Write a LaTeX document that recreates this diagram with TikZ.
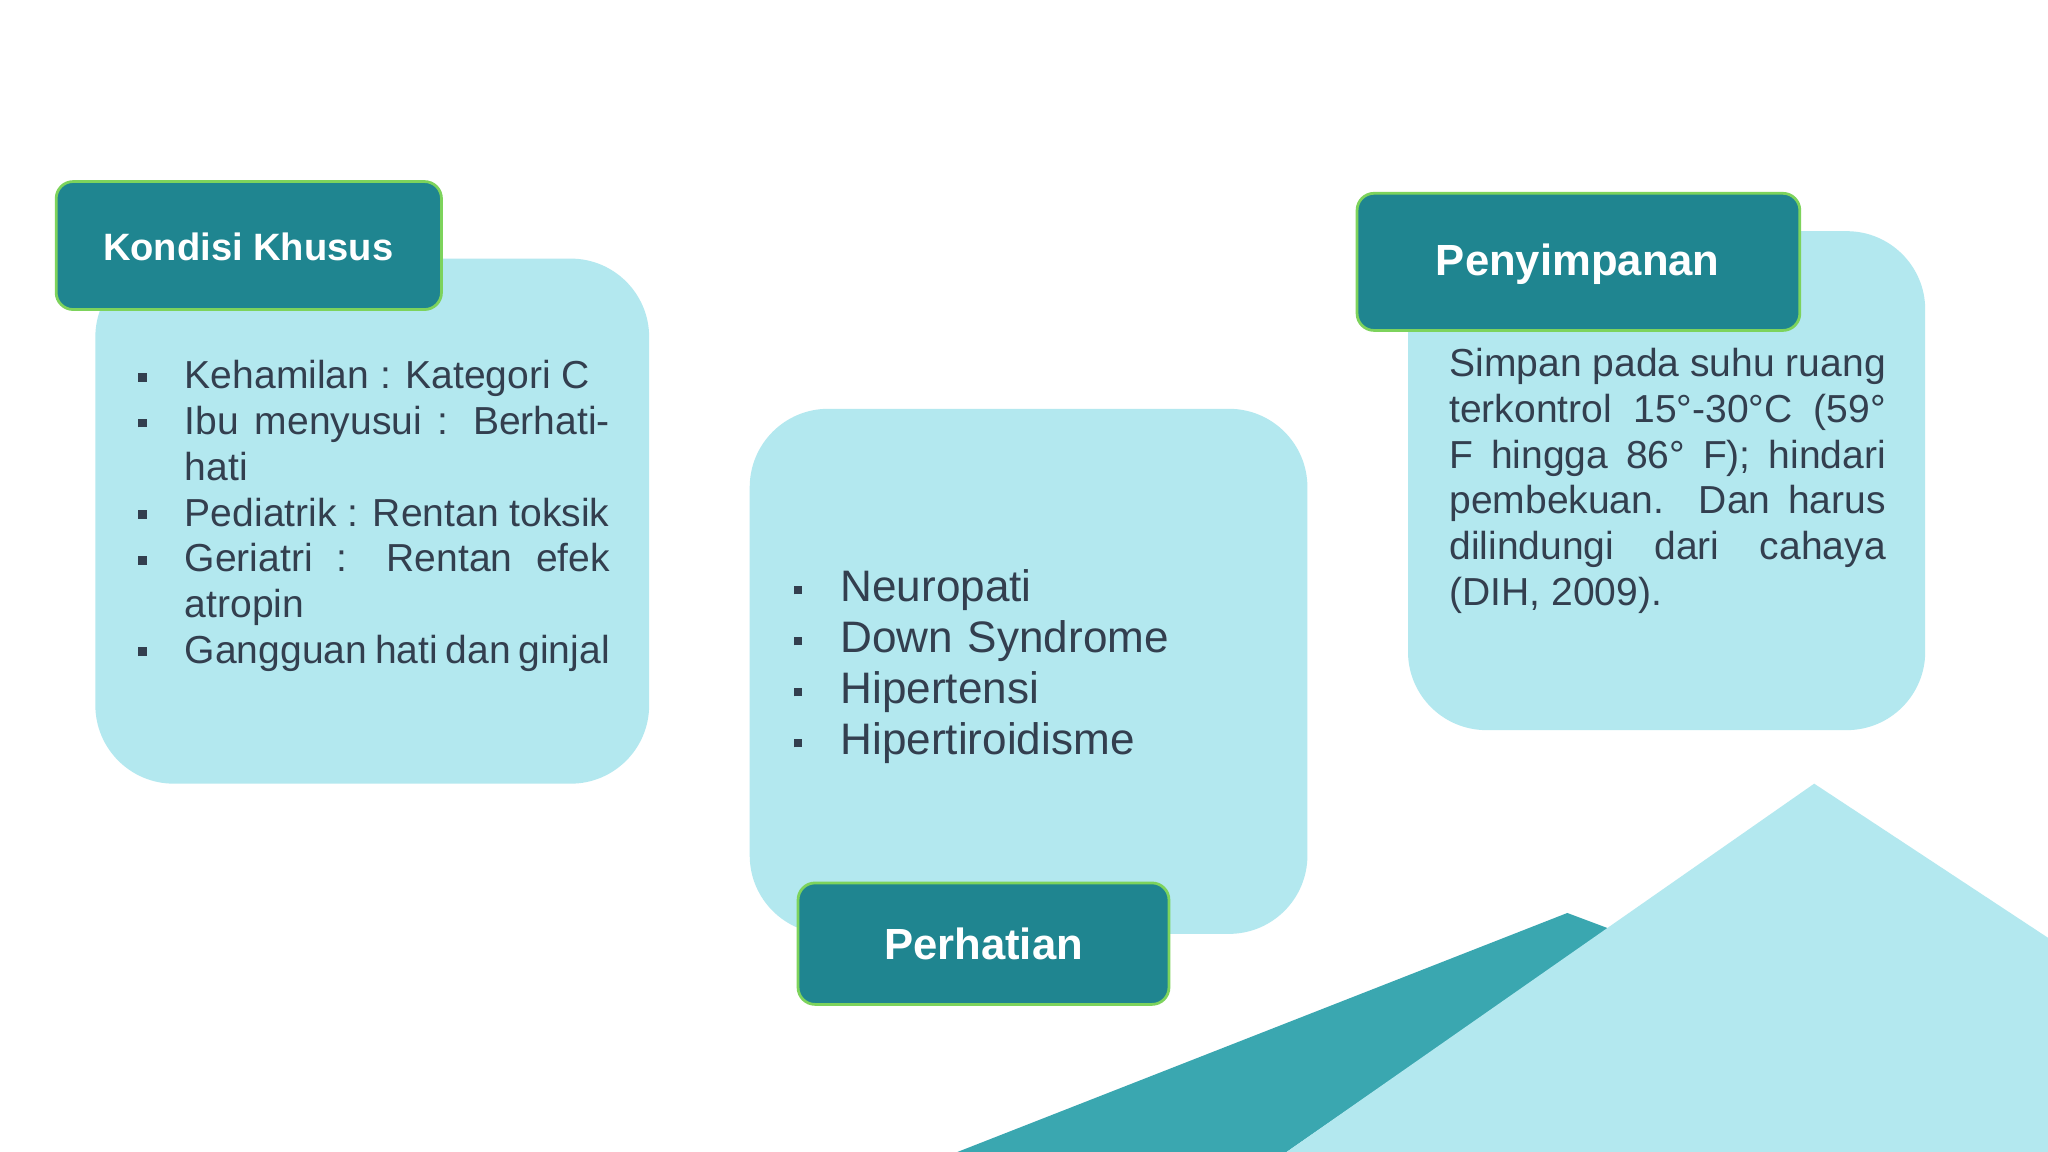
\documentclass[tikz,border=0pt]{standalone}
\usepackage{fontspec}
\setmainfont{Liberation Sans}
\definecolor{lightbox}{HTML}{B3E8EF}
\definecolor{head}{HTML}{1F8590}
\definecolor{headedge}{HTML}{7DD35C}
\definecolor{midteal}{HTML}{3AA7B0}
\definecolor{txt}{HTML}{333F4F}
\newcommand{\bitem}[1]{\par\hangindent=10.2pt\hangafter=1\noindent\makebox[10.2pt][l]{\raisebox{1.6pt}{\rule{1.9pt}{1.9pt}}}#1}
\begin{document}
\begin{tikzpicture}[x=0.01cm,y=-0.01cm,
  soft/.style={fill=lightbox,rounded corners=0.6cm},
  headbox/.style={fill=head,draw=headedge,line width=0.6pt,rounded corners=0.13cm},
  headtext/.style={text=white,font=\bfseries},
  body/.style={text=txt,align=justify,inner sep=0pt,anchor=north west}]
\useasboundingbox (0,0) rectangle (1568,882);
\fill[white] (0,0) rectangle (1568,882);
% bottom shapes
\fill[midteal] (733,882) -- (1200,699) -- (1232,711) -- (985,882) -- cycle;
\fill[lightbox] (985,882) -- (1389,600) -- (1568,718) -- (1568,882) -- cycle;
% boxes
\fill[soft] (73,198) rectangle (497,600);
\fill[soft] (574,313) rectangle (1001,715);
\fill[soft] (1078,177) rectangle (1474,559);
% headers
\draw[headbox] (43,139) rectangle (338,237);
\node[headtext,font=\bfseries\fontsize{8.3}{10}\selectfont] (h1) at (190,189) {Kondisi Khusus};
\draw[headbox] (1039,148) rectangle (1378,253);
\node[headtext,font=\bfseries\fontsize{9.5}{11}\selectfont] (h3) at (1208,202) {Penyimpanan};
\draw[headbox] (611,676) rectangle (895,769);
\node[headtext,font=\bfseries\fontsize{9.5}{11}\selectfont] (h2) at (753,723) {Perhatian};
% left text
\node[body,text width=3.61cm,font=\fontsize{8.5}{9.96}\selectfont] (t1) at (105,262) {\hyphenpenalty=10000\tolerance=9999
\bitem{Kehamilan : Kategori C}
\bitem{Ibu menyusui : Berhati-hati}
\bitem{Pediatrik : Rentan toksik}
\bitem{Geriatri : Rentan efek atropin}
\bitem{Gangguan hati dan ginjal}\par};
% middle text
\node[body,text width=3.3cm,align=left,font=\fontsize{9.6}{11.1}\selectfont] (t2) at (607,421) {\hangindent=0pt
\bitem{Neuropati}
\bitem{Down Syndrome}
\bitem{Hipertensi}
\bitem{Hipertiroidisme}\par};
% right text
\node[body,text width=3.34cm,font=\fontsize{8.5}{9.96}\selectfont] (t3) at (1109,266) {\hyphenpenalty=10000\tolerance=9999
Simpan pada suhu ruang terkontrol 15°-30°C (59° F hingga 86° F); hindari pembekuan. Dan harus dilindungi dari cahaya (DIH, 2009).\par};
\end{tikzpicture}
\end{document}
